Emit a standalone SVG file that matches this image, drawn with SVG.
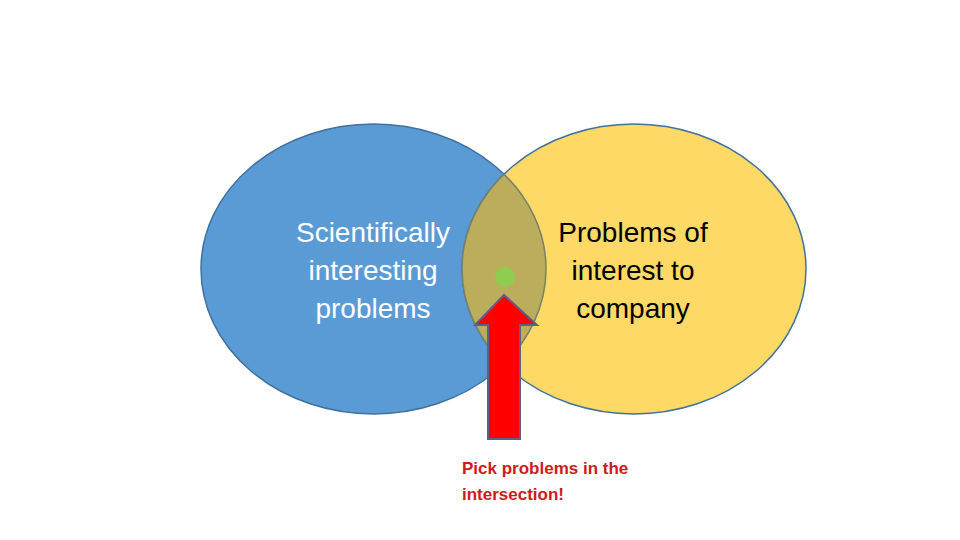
<svg xmlns="http://www.w3.org/2000/svg" width="960" height="540" viewBox="0 0 960 540">
<style>
.lbl{font-family:"Liberation Sans","Open Sans",sans-serif;font-size:28px;text-anchor:middle}
.note{font-family:"Liberation Sans","Open Sans",sans-serif;font-size:17px;font-weight:bold;fill:#d01a1a}
.edge{fill:none;stroke:#76806a;stroke-width:1.5}
</style>
<defs>
<clipPath id="clipBlue"><ellipse cx="373.5" cy="269" rx="172.5" ry="145"/></clipPath>
<clipPath id="clipYellow"><ellipse cx="634" cy="269" rx="172" ry="145"/></clipPath>
</defs>
<rect width="960" height="540" fill="#ffffff"/>
<g id="blue">
<ellipse cx="373.5" cy="269" rx="172.5" ry="145" fill="#5b9bd5" stroke="#41719c" stroke-width="1.5"/>
<text class="lbl" x="373" y="242" fill="#ffffff">Scientifically</text>
<text class="lbl" x="373" y="280" fill="#ffffff">interesting</text>
<text class="lbl" x="373" y="318" fill="#ffffff">problems</text>
</g>
<g id="yellow">
<ellipse cx="634" cy="269" rx="172" ry="145" fill="#ffd966" stroke="#41719c" stroke-width="1.5"/>
<text class="lbl" x="633" y="242" fill="#000000">Problems of</text>
<text class="lbl" x="633" y="280" fill="#000000">interest to</text>
<text class="lbl" x="633" y="318" fill="#000000">company</text>
</g>
<g id="intersection">
<ellipse cx="634" cy="269" rx="172" ry="145" fill="#bbad5c" clip-path="url(#clipBlue)"/>
<ellipse class="edge" cx="634" cy="269" rx="172" ry="145" clip-path="url(#clipBlue)"/>
<ellipse class="edge" cx="373.5" cy="269" rx="172.5" ry="145" clip-path="url(#clipYellow)"/>
</g>
<g id="dot">
<circle cx="505" cy="277" r="10" fill="#8fcc4f"/>
</g>
<g id="connectors">
<polygon points="504,295 537,325 520,325 520,439 488,439 488,325 475,325" fill="#ff0000" stroke="#5b5f8a" stroke-width="2" stroke-linejoin="miter"/>
</g>
<g id="note">
<text class="note" x="462" y="474">Pick problems in the</text>
<text class="note" x="462" y="500">intersection!</text>
</g>
</svg>
